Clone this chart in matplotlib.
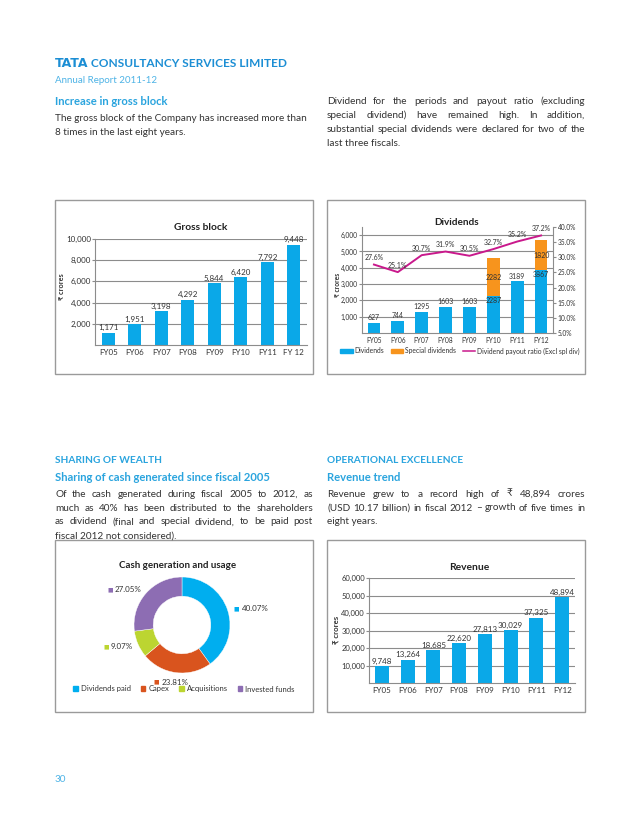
import math
import matplotlib
matplotlib.use('Agg')
import matplotlib.pyplot as plt
from matplotlib.patches import Rectangle, Patch
from matplotlib.lines import Line2D
from matplotlib.ticker import FuncFormatter

years = ['FY05', 'FY06', 'FY07', 'FY08', 'FY09', 'FY10', 'FY11', 'FY12']
gross_years = ['FY05', 'FY06', 'FY07', 'FY08', 'FY09', 'FY10', 'FY11', 'FY 12']
gross_block = [1171, 1951, 3198, 4292, 5844, 6420, 7792, 9448]
gross_ticks = [2000, 4000, 6000, 8000, 10000]

dividends = [627, 744, 1295, 1603, 1603, 2287, 3189, 3867]
special_div = [0, 0, 0, 0, 0, 2282, 0, 1820]
payout = [27.6, 25.1, 30.7, 31.9, 30.5, 32.7, 35.2, 37.2]
div_ticks = [1000, 2000, 3000, 4000, 5000, 6000]
payout_ticks = [5, 10, 15, 20, 25, 30, 35, 40]

cash_labels = ['Dividends paid', 'Capex', 'Acquisitions', 'Invested funds']
cash_share = [40.07, 23.81, 9.07, 27.05]

revenue = [9748, 13264, 18685, 22620, 27813, 30029, 37325, 48894]
rev_ticks = [10000, 20000, 30000, 40000, 50000, 60000]

BLUE = '#0AA8E8'
ORANGE = '#F7941D'
MAGENTA = '#C9198C'
DONUT = ['#00AEEF', '#D9541E', '#BCD531', '#8D6DB3']
HEAD = '#2AA4DE'
TXT = '#333333'
GRID = '#8c8c8c'
FONT = ['Lato', 'DejaVu Sans']

plt.rcParams['font.family'] = FONT

W, H = 638, 817
fig = plt.figure(figsize=(W / 100, H / 100), dpi=100)
fig.patch.set_facecolor('white')

# page layer in pixel coordinates
page = fig.add_axes([0, 0, 1, 1])
page.set_xlim(0, W)
page.set_ylim(H, 0)
page.axis('off')
renderer = fig.canvas.get_renderer()


def box(l, t, r, b):
    page.add_patch(Rectangle((l, t), r - l, b - t, fill=False, ec='#9a9a9a', lw=1.0))


def chart_ax(l, t, r, b):
    return fig.add_axes([l / W, 1 - b / H, (r - l) / W, (b - t) / H])


def justify(x0, x1, y, line, **kw):
    words = line.split(' ')
    texts = [page.text(0, y, w, va='center', **kw) for w in words]
    widths = [t.get_window_extent(renderer).width for t in texts]
    gap = (x1 - x0 - sum(widths)) / (len(words) - 1)
    x = x0
    for t, w in zip(texts, widths):
        t.set_x(x)
        x += w + gap


def paragraph(x0, x1, y, lines, step=14):
    for i, line in enumerate(lines):
        yy = y + i * step
        if x1 is None or i == len(lines) - 1:
            page.text(x0, yy, line, va='center', fontsize=7.2, color=TXT)
        else:
            justify(x0, x1, yy, line, fontsize=7.2, color=TXT)


def style(ax, yticks, fs):
    ax.set_yticks(yticks)
    ax.yaxis.set_major_formatter(FuncFormatter(lambda v, p: f'{v:,.0f}'))
    ax.grid(axis='y', color=GRID, lw=0.8)
    ax.set_axisbelow(True)
    for s in ['top', 'right']:
        ax.spines[s].set_visible(False)
    for s in ['left', 'bottom']:
        ax.spines[s].set_color(GRID)
    ax.tick_params(axis='y', length=2.5, color=GRID, labelsize=fs, labelcolor=TXT, pad=0.5)
    ax.tick_params(axis='x', length=0, labelsize=fs, labelcolor=TXT, pad=3)
    ax.set_facecolor('none')
    ax.set_xlim(-0.5, 7.5)


# header
t = page.text(55, 63, 'TATA', fontsize=9, fontweight='heavy', color='#1C8ED4',
              family=['DejaVu Sans'], va='center')
page.annotate(' CONSULTANCY SERVICES LIMITED', xy=(1, 0.5), xycoords=t, va='center',
              fontsize=8.6, fontweight='bold', color='#1C8ED4')
page.text(55, 80, 'Annual Report 2011-12', fontsize=7.0, color='#4DB3E6', va='center')

# top texts
page.text(55, 101, 'Increase in gross block', fontsize=8.1, fontweight='bold', color=HEAD, va='center')
paragraph(55, None, 118, ['The gross block of the Company has increased more than',
                          '8 times in the last eight years.'])
paragraph(327, 585, 101, ['Dividend for the periods and payout ratio (excluding',
                          'special dividend) have remained high. In addition,',
                          'substantial special dividends were declared for two of the',
                          'last three fiscals.'])

# bottom texts
page.text(55, 460, 'SHARING OF WEALTH', fontsize=7.3, fontweight='bold', color=HEAD, va='center')
page.text(55, 477, 'Sharing of cash generated since fiscal 2005', fontsize=8.1,
          fontweight='bold', color=HEAD, va='center')
paragraph(55, 313, 494, ['Of the cash generated during fiscal 2005 to 2012, as',
                         'much as 40% has been distributed to the shareholders',
                         'as dividend (final and special dividend, to be paid post',
                         'fiscal 2012 not considered).'])
page.text(327, 460, 'OPERATIONAL EXCELLENCE', fontsize=7.3, fontweight='bold', color=HEAD, va='center')
page.text(327, 477, 'Revenue trend', fontsize=8.1, fontweight='bold', color=HEAD, va='center')
paragraph(327, 585, 494, ['Revenue grew to a record high of ₹ 48,894 crores',
                          '(USD 10.17 billion) in fiscal 2012 – growth of five times in',
                          'eight years.'])
page.text(55, 780, '30', fontsize=7.2, color='#4DB3E6', va='center')

box(55, 200, 313, 374)
box(327, 200, 585, 374)
box(55, 540, 313, 712)
box(327, 540, 585, 712)

# gross block
ax = chart_ax(95, 239, 307, 345)
ax.bar(range(len(gross_block)), gross_block, width=0.5, color=BLUE)
style(ax, gross_ticks, 5.8)
ax.set_ylim(0, 10000)
ax.set_xticks(range(len(gross_years)), gross_years)
for i, v in enumerate(gross_block):
    ax.annotate(f'{v:,}', (i, v), xytext=(0, 1), textcoords='offset points',
                ha='center', va='bottom', fontsize=5.8, color=TXT)
page.text(201, 227, 'Gross block', fontsize=7.4, fontweight='bold', color='#222', ha='center', va='center')
page.text(62, 287, '₹ crores', fontsize=5.3, fontweight='bold', color=TXT, rotation=90,
          ha='center', va='center')

# dividends
ax = chart_ax(362, 227, 553, 333)
x = list(range(len(years)))
ax.bar(x, dividends, width=0.53, color=BLUE)
ax.bar(x, special_div, width=0.53, bottom=dividends, color=ORANGE)
style(ax, div_ticks, 4.8)
ax.set_ylim(0, 6500)
ax.set_xticks(x, years)
for i, (d, s) in enumerate(zip(dividends, special_div)):
    if s > 0:
        ax.annotate(str(d), (i, d), xytext=(0, -1), textcoords='offset points',
                    ha='center', va='top', fontsize=5, color=TXT)
        ax.text(i, d + s / 2, str(s), ha='center', va='center', fontsize=5, color=TXT)
    else:
        ax.annotate(str(d), (i, d), xytext=(0, 1), textcoords='offset points',
                    ha='center', va='bottom', fontsize=5, color=TXT)
ax2 = ax.twinx()
ax2.plot(x, payout, color=MAGENTA, lw=1.4)
ax2.set_ylim(5, 40)
ax2.set_yticks(payout_ticks)
ax2.yaxis.set_major_formatter(FuncFormatter(lambda v, p: f'{v:.1f}%'))
ax2.tick_params(axis='y', length=2.5, color=GRID, labelsize=4.8, labelcolor=TXT, pad=1)
for s in ['top', 'left', 'bottom']:
    ax2.spines[s].set_visible(False)
ax2.spines['right'].set_color(GRID)
for i, p in enumerate(payout):
    ax2.annotate(f'{p:.1f}%', (i, p), xytext=(0, 2.5), textcoords='offset points',
                 ha='center', va='bottom', fontsize=5, color=TXT)
page.text(457, 222, 'Dividends', fontsize=7.2, fontweight='bold', color='#222', ha='center', va='center')
page.text(337, 285, '₹ crores', fontsize=4.8, fontweight='bold', color=TXT, rotation=90,
          ha='center', va='center')
handles = [Patch(color=BLUE, label='Dividends'), Patch(color=ORANGE, label='Special dividends'),
           Line2D([], [], color=MAGENTA, lw=1.1, label='Dividend payout ratio (Excl spl div)')]
fig.legend(handles=handles, loc='center', bbox_to_anchor=(460 / W, 1 - 351 / H), ncol=3,
           frameon=False, fontsize=4.9, handlelength=1.8, handleheight=0.4,
           handletextpad=0.3, columnspacing=1.0, labelcolor=TXT)

# cash generation donut
R = 48
half = 77
ax = chart_ax(182 - half, 625 - half, 182 + half, 625 + half)
wedges, _ = ax.pie(cash_share, colors=DONUT, startangle=90, counterclock=False,
                   wedgeprops=dict(width=0.4, edgecolor='white', linewidth=0.3))
ax.set_xlim(-half / R, half / R)
ax.set_ylim(-half / R, half / R)
ax.set_aspect('equal')
for w, v, c in zip(wedges, cash_share, DONUT):
    ang = math.radians((w.theta1 + w.theta2) / 2)
    cx, cy = math.cos(ang), math.sin(ang)
    r = 1.12
    if abs(cx) < 0.35:
        ha = 'center'
        r = 1.2
    else:
        ha = 'left' if cx > 0 else 'right'
    off = 6 if ha == 'left' else 0
    lab = ax.annotate(f'{v:.2f}%', (r * cx, r * cy), xytext=(off, 0), textcoords='offset points',
                      ha=ha, va='center', fontsize=5.8, color=TXT)
    ax.annotate('■', xy=(0, 0.5), xycoords=lab, xytext=(-1.5, 0), textcoords='offset points',
                ha='right', va='center', fontsize=4.2, color=c, family=['DejaVu Sans'])
page.text(178, 566, 'Cash generation and usage', fontsize=7.0, fontweight='bold', color='#222',
          ha='center', va='center')
handles = [Patch(color=c, label=l) for c, l in zip(DONUT, cash_labels)]
fig.legend(handles=handles, loc='center', bbox_to_anchor=(184 / W, 1 - 689 / H), ncol=4,
           frameon=False, fontsize=5.5, handlelength=0.6, handleheight=0.6,
           handletextpad=0.4, columnspacing=1.3, labelcolor=TXT)

# revenue
ax = chart_ax(369, 578, 575, 683)
ax.bar(range(len(revenue)), revenue, width=0.54, color=BLUE)
style(ax, rev_ticks, 5.5)
ax.set_ylim(0, 60000)
ax.set_xticks(range(len(years)), years)
ax.tick_params(axis='x', labelsize=5.8)
for i, v in enumerate(revenue):
    ax.annotate(f'{v:,}', (i, v), xytext=(0, 1), textcoords='offset points',
                ha='center', va='bottom', fontsize=5.8, color=TXT)
page.text(469, 567, 'Revenue', fontsize=7.4, fontweight='bold', color='#222', ha='center', va='center')
page.text(337, 630, '₹ crores', fontsize=5.6, fontweight='bold', color=TXT, rotation=90,
          ha='center', va='center')

fig.savefig('out.png', dpi=100, facecolor='white')
